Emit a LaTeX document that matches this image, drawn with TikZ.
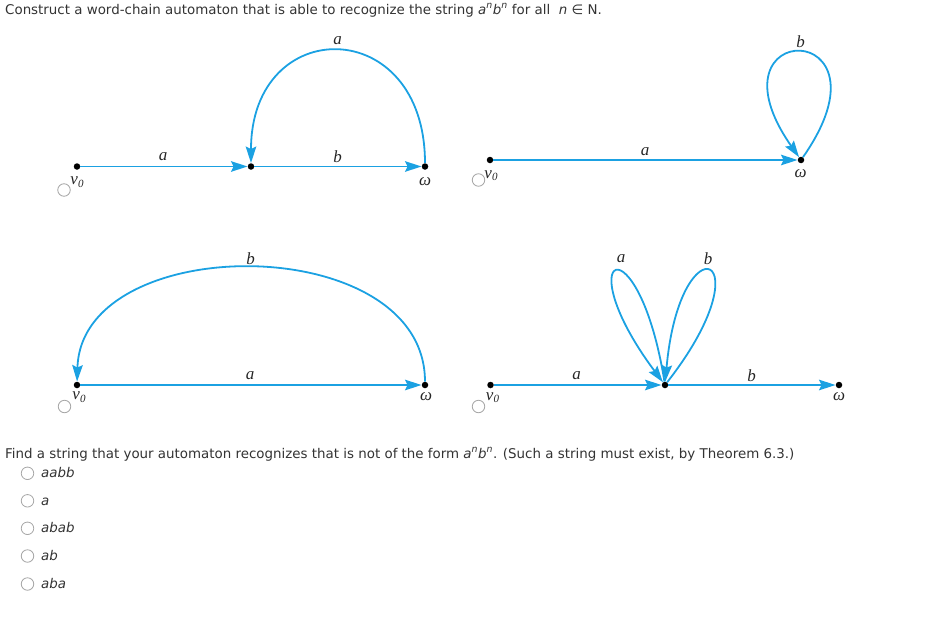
\documentclass[tikz,border=0pt]{standalone}
\usepackage{fontspec}
\setmainfont{DejaVu Sans}
\newfontfamily\lblfont{Liberation Serif}
\usetikzlibrary{arrows.meta}
\definecolor{edgeblue}{RGB}{27,161,226}
\definecolor{txtgrey}{RGB}{51,51,51}
\newcommand{\vnull}{{\lblfont\itshape v}\raisebox{-2.5pt}{\fontsize{11}{11}\selectfont 0}}
\begin{document}
\begin{tikzpicture}[x=1pt,y=-1pt,
  dot/.style={circle, fill=black, inner sep=0pt, minimum size=6.5pt},
  edge/.style={draw=edgeblue, line width=1.8pt, -{Stealth[length=16.5pt,width=10.5pt,inset=2.5pt]}},
  lbl/.style={font=\lblfont\itshape\fontsize{17}{17}\selectfont, text=black!85, inner sep=0pt},
  radio/.style={circle, draw=gray!70, line width=0.8pt, fill=white, minimum size=12.5pt, inner sep=0pt},
  txt/.style={anchor=base west, inner sep=0pt, text=txtgrey, font=\fontsize{13.4}{15}\selectfont}]
\useasboundingbox (0,0) rectangle (940,616);
% header
\node[txt] (head) at (5,14) {Construct a word-chain automaton that is able to recognize the string \textit{a}\textsuperscript{\textit{n}}\textit{b}\textsuperscript{\textit{n}} for all\ \ \textit{n} ∈ N.};

% diagram 1
\node[dot] (a1) at (77,166.5) {};
\node[dot] (b1) at (251,166.5) {};
\node[dot] (c1) at (425,166.5) {};
\draw[edge] (a1) -- (b1);
\draw[edge] (b1) -- (c1);
\draw[edge] (c1) .. controls +(0,-153) and +(0,-153) .. (b1);
\node[lbl] (l1a) at (163,156.5) {a};
\node[lbl] (l1b) at (337.5,156.5) {b};
\node[lbl] (l1t) at (337.5,40.5) {a};
\node[radio] (r1) at (64,190) {};
\node[lbl] (v1) at (77,182) {\vnull};
\node[lbl] (w1) at (425,181.5) {ω};

% diagram 2
\node[dot] (a2) at (490,160) {};
\node[dot] (c2) at (801,160) {};
\draw[edge] (a2) -- (c2);
\draw[edge] (c2) .. controls +(100,-143) and +(-100,-143) .. (c2);
\node[lbl] (l2a) at (645,151.5) {a};
\node[lbl] (l2b) at (800.5,41.5) {b};
\node[radio] (r2) at (478.5,180) {};
\node[lbl] (v2) at (491,175.5) {\vnull};
\node[lbl] (w2) at (800.5,174) {ω};

% diagram 3
\node[dot] (a3) at (77,385) {};
\node[dot] (c3) at (425,385) {};
\draw[edge] (a3) -- (c3);
\draw[edge] (c3) .. controls +(0,-155) and +(4,-155) .. (a3);
\node[lbl] (l3a) at (250,376) {a};
\node[lbl] (l3b) at (250.5,258.5) {b};
\node[radio] (r3) at (64.5,406.5) {};
\node[lbl] (v3) at (79,397) {\vnull};
\node[lbl] (w3) at (426,397) {ω};

% diagram 4
\node[dot] (a4) at (490.5,385) {};
\node[dot] (b4) at (665,385) {};
\node[dot] (c4) at (839,385) {};
\draw[edge] (a4) -- (b4);
\draw[edge] (b4) -- (c4);
\draw[edge] (b4) .. controls +(-27,-167.5) and +(-100,-134) .. (b4);
\draw[edge] (b4) .. controls +(104,-133) and +(15,-168) .. (b4);
\node[lbl] (l4a) at (576.5,376) {a};
\node[lbl] (l4b) at (751.5,376) {b};
\node[lbl] (l4la) at (621,258.5) {a};
\node[lbl] (l4lb) at (708,258.5) {b};
\node[radio] (r4) at (478.5,406.5) {};
\node[lbl] (v4) at (492.5,397.5) {\vnull};
\node[lbl] (w4) at (839,397) {ω};

% question
\node[txt] (find) at (5,458) {Find a string that your automaton recognizes that is not of the form \textit{a}\textsuperscript{\textit{n}}\textit{b}\textsuperscript{\textit{n}}. (Such a string must exist, by Theorem 6.3.)};
\node[radio] (o1) at (27.5,473.3) {};
\node[radio] (o2) at (27.5,500.8) {};
\node[radio] (o3) at (27.5,528.3) {};
\node[radio] (o4) at (27.5,556) {};
\node[radio] (o5) at (27.5,584) {};
\node[txt] (t1) at (41,477.8) {\textit{aabb}};
\node[txt] (t2) at (41,505.3) {\textit{a}};
\node[txt] (t3) at (41,532.8) {\textit{abab}};
\node[txt] (t4) at (41,560.5) {\textit{ab}};
\node[txt] (t5) at (41,588.5) {\textit{aba}};
\end{tikzpicture}
\end{document}
